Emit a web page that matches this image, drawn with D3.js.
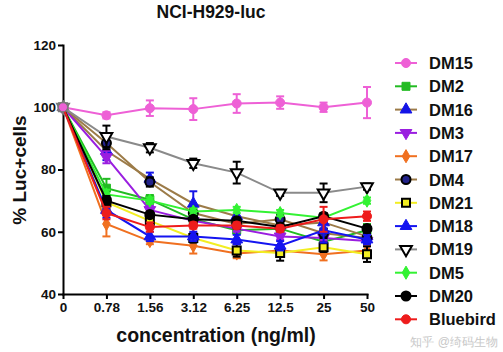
<!DOCTYPE html>
<html>
<head>
<meta charset="utf-8">
<script src="https://cdn.jsdelivr.net/npm/d3@7"></script>
<style>
  body { margin: 0; background: #fff; }
  text { font-family: Arial, "Liberation Sans", sans-serif; }
  .axis path, .axis line { stroke: #000; stroke-width: 2; }
  .axis text { font-size: 13.5px; font-weight: bold; fill: #111; }
</style>
</head>
<body>
<div id="chart"></div>
<script>
// x categories (concentration, ng/ml) and y ticks
const concentrations = ['0', '0.78', '1.56', '3.12', '6.25', '12.5', '25', '50'];
const yTicks = [40, 60, 80, 100, 120];

// series names (legend order)
const seriesNames = ['DM15', 'DM2', 'DM16', 'DM3', 'DM17', 'DM4', 'DM21', 'DM18', 'DM19', 'DM5', 'DM20', 'Bluebird'];

// % Luc+ cells per series
const dm15 = [100, 97.4, 99.7, 99.4, 101.2, 101.5, 100.0, 101.5];
const dm2 = [100, 74.0, 70.3, 64.0, 60.5, 61.0, 56.8, 60.5];
const dm16 = [100, 86.0, 77.0, 69.0, 65.0, 62.0, 63.0, 58.5];
const dm3 = [100, 84.0, 67.0, 63.5, 61.0, 58.5, 58.0, 57.0];
const dm17 = [100, 62.5, 57.0, 55.5, 53.0, 54.0, 52.8, 54.0];
const dm4 = [100, 88.5, 76.0, 66.0, 62.5, 64.0, 59.5, 58.0];
const dm21 = [100, 69.5, 63.5, 58.0, 54.0, 53.2, 55.0, 52.8];
const dm18 = [100, 67.0, 58.5, 58.5, 57.5, 55.5, 60.5, 57.5];
const dm19 = [100, 90.6, 87.0, 82.0, 79.0, 72.5, 72.5, 74.5];
const dm5 = [100, 72.0, 70.0, 66.5, 67.0, 66.0, 64.5, 70.0];
const dm20 = [100, 70.0, 65.5, 64.0, 63.5, 61.5, 65.0, 61.0];
const bluebird = [100, 66.0, 61.5, 62.0, 62.0, 61.0, 64.0, 65.0];

// SEM values per series
const dm15Err = [0, 1.0, 2.5, 3.5, 3.0, 2.0, 1.5, 5.0];
const dm2Err = [0, 3.0, 1.5, 1.5, 1.0, 1.5, 1.5, 2.0];
const dm16Err = [0, 3.0, 2.0, 4.0, 2.0, 1.5, 2.0, 1.5];
const dm3Err = [0, 2.0, 1.5, 1.0, 1.0, 1.0, 1.0, 1.0];
const dm17Err = [0, 4.0, 1.0, 2.5, 1.5, 1.5, 2.0, 1.5];
const dm4Err = [0, 2.0, 1.5, 1.5, 1.5, 1.5, 1.5, 1.5];
const dm21Err = [0, 2.0, 1.5, 1.5, 2.0, 2.5, 1.5, 2.5];
const dm18Err = [0, 2.5, 1.5, 1.5, 1.5, 1.5, 4.0, 1.5];
const dm19Err = [0, 3.5, 1.5, 1.5, 3.5, 1.0, 3.0, 1.0];
const dm5Err = [0, 1.5, 1.0, 1.0, 1.0, 1.0, 1.0, 1.0];
const dm20Err = [0, 1.5, 1.0, 1.0, 1.0, 1.0, 1.0, 1.0];
const bluebirdErr = [0, 2.0, 1.5, 1.0, 1.0, 1.0, 4.0, 1.5];

const seriesValues = [dm15, dm2, dm16, dm3, dm17, dm4, dm21, dm18, dm19, dm5, dm20, bluebird];
const seriesErrors = [dm15Err, dm2Err, dm16Err, dm3Err, dm17Err, dm4Err, dm21Err, dm18Err, dm19Err, dm5Err, dm20Err, bluebirdErr];

// styles: line colour, marker fill, marker stroke, marker shape
const styles = {
  DM15: {line: '#ee60d6', fill: '#ee60d6', stroke: '#ee60d6', shape: d3.symbolCircle},
  DM2: {line: '#22bb22', fill: '#22bb22', stroke: '#22bb22', shape: d3.symbolSquare},
  DM16: {line: '#9c7b48', fill: '#1414e6', stroke: '#1414e6', shape: d3.symbolTriangle},
  DM3: {line: '#9a1ee0', fill: '#9a1ee0', stroke: '#9a1ee0', shape: 'down'},
  DM17: {line: '#f07020', fill: '#f07020', stroke: '#f07020', shape: d3.symbolDiamond},
  DM4: {line: '#9c7b48', fill: '#22228a', stroke: '#000', shape: d3.symbolCircle},
  DM21: {line: '#f2ee22', fill: '#f2ee22', stroke: '#000', shape: d3.symbolSquare},
  DM18: {line: '#1414f0', fill: '#1414f0', stroke: '#1414f0', shape: d3.symbolTriangle},
  DM19: {line: '#8a8a8a', fill: '#fff', stroke: '#000', shape: 'down'},
  DM5: {line: '#33f233', fill: '#33f233', stroke: '#33f233', shape: d3.symbolDiamond},
  DM20: {line: '#000', fill: '#000', stroke: '#000', shape: d3.symbolCircle},
  Bluebird: {line: '#ee1c1c', fill: '#ee1c1c', stroke: '#ee1c1c', shape: d3.symbolCircle}
};

const margin = {top: 45, right: 136, bottom: 58, left: 63};
const W = 503, H = 352;
const width = W - margin.left - margin.right;
const height = H - margin.top - margin.bottom;

const svg = d3.select('#chart').append('svg')
  .attr('width', W).attr('height', H);

const chart = svg.append('g')
  .attr('transform', `translate(${margin.left},${margin.top})`);

const xScale = d3.scalePoint().domain(concentrations).range([0, width]);
const yScale = d3.scaleLinear().domain([40, 120]).range([height, 0]);

// axes
chart.append('g').attr('class', 'axis')
  .attr('transform', `translate(0,${height})`)
  .call(d3.axisBottom(xScale).tickSize(5).tickSizeOuter(0).tickPadding(3));
chart.append('g').attr('class', 'axis')
  .call(d3.axisLeft(yScale).tickValues(yTicks).tickSize(5).tickSizeOuter(0).tickPadding(2));
chart.selectAll('.axis .domain').attr('stroke-linecap', 'square');

// marker path helper
function markerPath(shape, size) {
  if (shape === 'down') return d3.symbol(d3.symbolTriangle, size)();
  return d3.symbol(shape, size)();
}
function markerSize(shape) {
  if (shape === d3.symbolSquare) return 64;
  if (shape === d3.symbolDiamond) return 50;
  if (shape === d3.symbolTriangle || shape === 'down') return 60;
  return 64;
}

const line = d3.line()
  .x((d, i) => xScale(concentrations[i]))
  .y(d => yScale(d));

seriesNames.forEach((name, s) => {
  const st = styles[name];
  const vals = seriesValues[s];
  const errs = seriesErrors[s];
  const g = chart.append('g');

  g.append('path').datum(vals)
    .attr('d', line)
    .attr('fill', 'none')
    .attr('stroke', st.line)
    .attr('stroke-width', 2);

  const pts = vals.map((v, i) => ({x: concentrations[i], v: v, e: errs[i]}));
  const errColor = st.stroke;

  const eb = g.selectAll('.err').data(pts.filter(d => d.e > 0)).join('g');
  eb.append('line')
    .attr('x1', d => xScale(d.x)).attr('x2', d => xScale(d.x))
    .attr('y1', d => yScale(d.v - d.e)).attr('y2', d => yScale(d.v + d.e))
    .attr('stroke', errColor).attr('stroke-width', 2);
  [1, -1].forEach(sign => {
    eb.append('line')
      .attr('x1', d => xScale(d.x) - 4).attr('x2', d => xScale(d.x) + 4)
      .attr('y1', d => yScale(d.v + sign * d.e)).attr('y2', d => yScale(d.v + sign * d.e))
      .attr('stroke', errColor).attr('stroke-width', 2);
  });

  g.selectAll('.mk').data(pts).join('path')
    .attr('d', markerPath(st.shape, markerSize(st.shape)))
    .attr('transform', d => `translate(${xScale(d.x)},${yScale(d.v)})${st.shape === 'down' ? ' rotate(180)' : ''}`)
    .attr('fill', d => d.x === '0' ? '#ee60d6' : st.fill)
    .attr('stroke', d => d.x === '0' ? '#777' : st.stroke)
    .attr('stroke-width', st.stroke === '#000' ? 2 : 1);
});

// title and axis titles
svg.append('text')
  .attr('x', 211).attr('y', 18)
  .attr('text-anchor', 'middle')
  .attr('font-size', 17.5).attr('font-weight', 'bold').attr('fill', '#111')
  .text('NCI-H929-luc');

svg.append('text')
  .attr('transform', 'translate(26,170) rotate(-90)')
  .attr('text-anchor', 'middle')
  .attr('font-size', 19).attr('font-weight', 'bold').attr('fill', '#111')
  .text('% Luc+cells');

svg.append('text')
  .attr('x', 216).attr('y', 342)
  .attr('text-anchor', 'middle')
  .attr('font-size', 19.5).attr('font-weight', 'bold').attr('fill', '#111')
  .text('concentration (ng/ml)');

// legend
const legend = svg.append('g').attr('transform', 'translate(395,63)');
const legendItems = legend.selectAll('g').data(seriesNames).join('g')
  .attr('transform', (d, i) => `translate(0,${i * 23.3})`);
legendItems.append('line')
  .attr('x1', 0).attr('x2', 22).attr('y1', 0).attr('y2', 0)
  .attr('stroke', d => styles[d].line).attr('stroke-width', 2);
legendItems.append('path')
  .attr('d', d => markerPath(styles[d].shape, markerSize(styles[d].shape)))
  .attr('transform', d => `translate(11,0)${styles[d].shape === 'down' ? ' rotate(180)' : ''}`)
  .attr('fill', d => styles[d].fill)
  .attr('stroke', d => styles[d].stroke)
  .attr('stroke-width', d => styles[d].stroke === '#000' ? 2 : 1);
legendItems.append('text')
  .attr('x', 34).attr('y', 6)
  .attr('font-size', 16.5).attr('font-weight', 'bold').attr('fill', '#111')
  .text(d => d);

// watermark
svg.append('text')
  .attr('x', 498).attr('y', 346)
  .attr('text-anchor', 'end')
  .attr('font-family', '"Noto Sans CJK SC", sans-serif')
  .attr('font-size', 12).attr('fill', '#c8c8c8')
  .text('知乎 @绮码生物');
</script>
</body>
</html>
